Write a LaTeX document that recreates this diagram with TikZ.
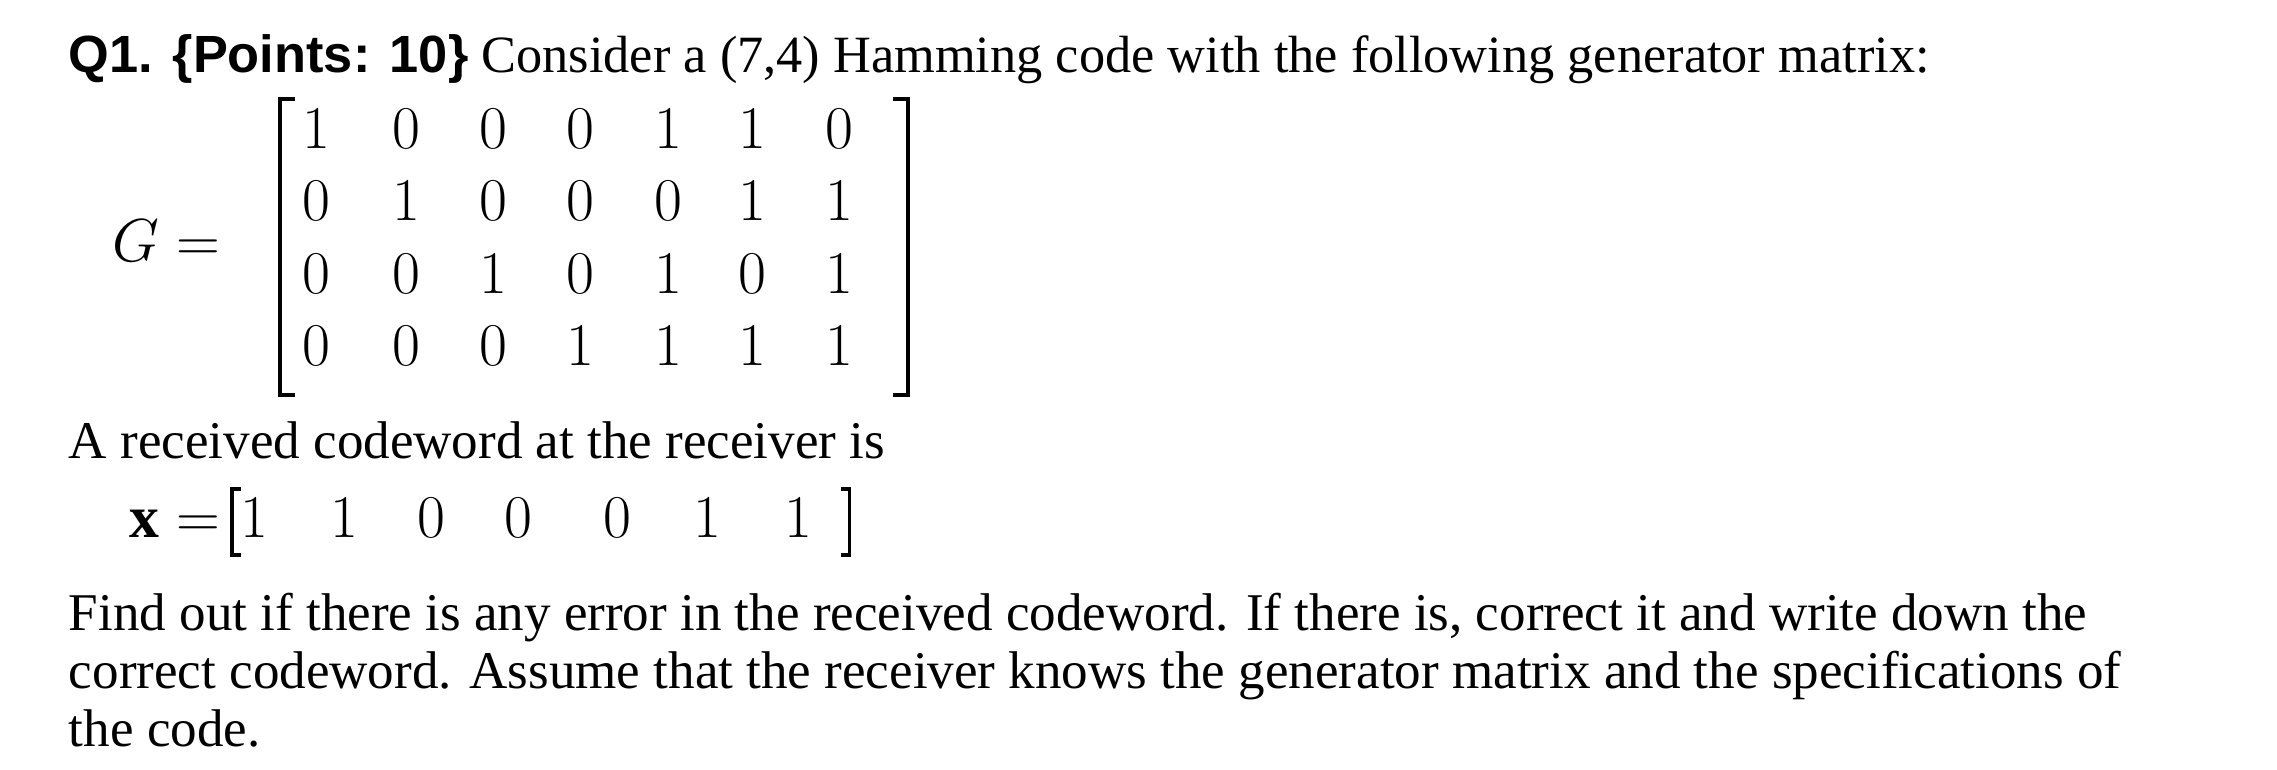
\documentclass[tikz,border=0pt]{standalone}
\usepackage{fontspec}
\setmainfont{Liberation Serif}
\newfontfamily\hsans{Liberation Sans}
\begin{document}
\begin{tikzpicture}[x=0.01452cm,y=-0.01452cm,
  txt/.style={anchor=base west,inner sep=0,font=\fontsize{15.1}{18}\selectfont},
  ent/.style={anchor=base,inner sep=0,font=\fontsize{17}{20}\selectfont},
  brk/.style={line width=1.1pt}]
\useasboundingbox[fill=white] (0,0) rectangle (1568,530);
\node[txt,font=\fontsize{14.9}{18}\selectfont] (t1) at (47,50) {{\hsans\bfseries Q1. \{Points: 10\}} Consider a (7,4) Hamming code with the following generator matrix:};
\node[ent,anchor=base east] (g) at (152,180) {$G=$};
\foreach \r/\y/\a/\b/\c/\d/\e/\f/\g in {0/102/1/0/0/0/1/1/0,1/152/0/1/0/0/0/1/1,2/202/0/0/1/0/1/0/1,3/252/0/0/0/1/1/1/1}{
  \node[ent] (m\r1) at (218,\y) {$\a$};
  \node[ent] (m\r2) at (280,\y) {$\b$};
  \node[ent] (m\r3) at (340,\y) {$\c$};
  \node[ent] (m\r4) at (400,\y) {$\d$};
  \node[ent] (m\r5) at (460,\y) {$\e$};
  \node[ent] (m\r6) at (518,\y) {$\f$};
  \node[ent] (m\r7) at (578,\y) {$\g$};
}
\draw[brk] (203,68) -- (193,68) -- (193,272) -- (203,272);
\draw[brk] (615,68) -- (625,68) -- (625,272) -- (615,272);
\node[txt] (t2) at (47,316) {A received codeword at the receiver is};
\node[ent,anchor=base east] (xl) at (152,370) {$\mathbf{x}=$};
\foreach \c/\x/\v in {1/175/1,2/237/1,3/297/0,4/357/0,5/425/0,6/487/1,7/550/1}
  \node[ent] (x\c) at (\x,370) {$\v$};
\draw[brk] (166,337) -- (160,337) -- (160,382) -- (166,382);
\draw[brk] (579,337) -- (585,337) -- (585,382) -- (579,382);
\node[txt] (t3) at (47,434) {Find out if there is any error in the received codeword. If there is, correct it and write down the};
\node[txt] (t4) at (47,474) {correct codeword. Assume that the receiver knows the generator matrix and the specifications of};
\node[txt] (t5) at (47,514) {the code.};
\end{tikzpicture}
\end{document}
